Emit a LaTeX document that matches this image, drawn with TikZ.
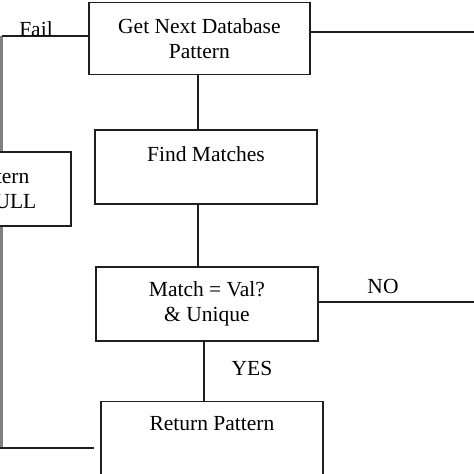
\documentclass[tikz,border=0pt]{standalone}
\usepackage{fontspec}
\setmainfont{Liberation Serif}
\begin{document}
\begin{tikzpicture}[x=1pt,y=-1pt,
  box/.style={draw=black!88, line width=1.8pt, fill=white, inner sep=0pt,
    font=\fontsize{21.5}{25}\selectfont, align=center, anchor=north west},
  conn/.style={draw=black!88, line width=1.8pt},
  lbl/.style={font=\fontsize{21.5}{25}\selectfont, inner sep=0pt}]
\useasboundingbox (0,0) rectangle (474,474);
\clip (0,0) rectangle (474,474);
% connectors first (boxes are white-filled)
\coordinate (r1) at (474,32);
\coordinate (r3) at (474,302);
\coordinate (lt) at (1.5,36);
\coordinate (lb) at (1.5,448);
\coordinate (l0) at (0,448);
\coordinate (l1) at (94,448);
\draw[gray, line width=2.2pt] (lt) -- (lb);
\node[box, minimum width=221pt, minimum height=72pt] (b1) at (88,1.5)
  {Get Next Database\\Pattern};
\node[box, minimum width=222pt, minimum height=74pt] (b2) at (94,129)
  {Find Matches\\\mbox{}};
\node[box, minimum width=222pt, minimum height=74pt] (b3) at (95,266)
  {Match = Val?\\\& Unique};
\node[box, minimum width=222pt, minimum height=95pt] (b4) at (100,400.5)
  {Return Pattern\\\mbox{}\\\mbox{}};
\node[box, minimum width=144pt, minimum height=74pt] (b5) at (-74,151)
  {Pattern\\= NULL};
\draw[conn] (b1.north east |- r1) -- (r1);
\draw[conn] (b1.north west |- lt) -- (lt);
\draw[conn] (l0) -- (l1);
\coordinate (d1) at (198,0);
\draw[conn] (b1.south -| d1) -- (b2.north -| d1);
\draw[conn] (b2.south -| d1) -- (b3.north -| d1);
\coordinate (d3) at (204,0);
\draw[conn] (b3.south -| d3) -- (b4.north -| d3);
\draw[conn] (b3.north east |- r3) -- (r3);
\node[lbl] (fail) at (36,29) {Fail};
\node[lbl] (no) at (383,286) {NO};
\node[lbl] (yes) at (252,368) {YES};
\end{tikzpicture}
\end{document}
